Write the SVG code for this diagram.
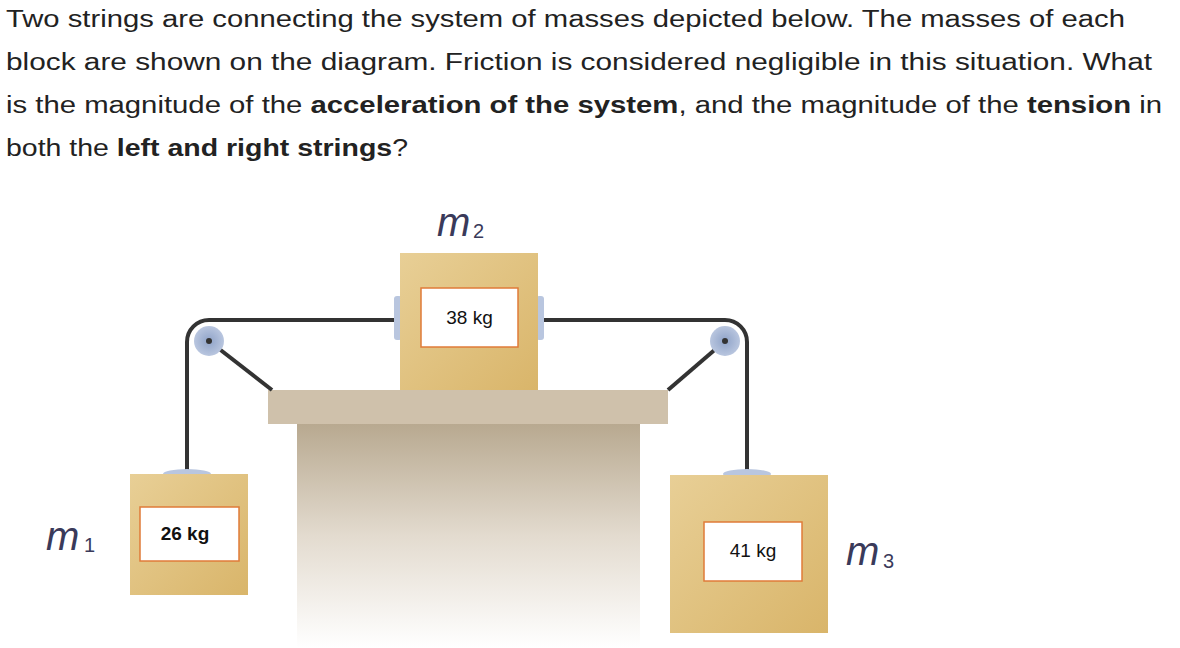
<svg xmlns="http://www.w3.org/2000/svg" width="1180" height="648" viewBox="0 0 1180 648">
<defs>
<linearGradient id="box" x1="0" y1="0" x2="1" y2="1"><stop offset="0" stop-color="#e8cf96"/><stop offset="1" stop-color="#d9b56a"/></linearGradient>
<linearGradient id="leg" x1="0" y1="0" x2="0" y2="1"><stop offset="0" stop-color="#b8a990"/><stop offset="0.5" stop-color="#e3dbcf"/><stop offset="1" stop-color="#ffffff"/></linearGradient>
<radialGradient id="pul"><stop offset="0" stop-color="#8fa3c8"/><stop offset="1" stop-color="#b9c6df"/></radialGradient>
</defs>
<style>
.q{font-family:"Liberation Sans",Arial,sans-serif;font-size:23px;fill:#222}
.b{font-weight:bold}
.lab{font-family:"Liberation Sans",Arial,sans-serif;font-size:19px;fill:#111}
.m{font-family:"Liberation Sans",Arial,sans-serif;font-style:italic;font-size:40px;fill:#3a3a5a}
.s{font-family:"Liberation Sans",Arial,sans-serif;font-size:20px;fill:#3a3a5a}
.str{stroke:#333;stroke-width:4;fill:none}
.lb{fill:#fff;stroke:#e07b39;stroke-width:1.5}
</style>
<text class="q" x="6" y="27" textLength="1119" lengthAdjust="spacingAndGlyphs">Two strings are connecting the system of masses depicted below. The masses of each</text>
<text class="q" x="6" y="70" textLength="1146" lengthAdjust="spacingAndGlyphs">block are shown on the diagram. Friction is considered negligible in this situation. What</text>
<text class="q" x="6" y="113" textLength="1156" lengthAdjust="spacingAndGlyphs">is the magnitude of the <tspan class="b">acceleration of the system</tspan>, and the magnitude of the <tspan class="b">tension</tspan> in</text>
<text class="q" x="6" y="156" textLength="402" lengthAdjust="spacingAndGlyphs">both the <tspan class="b">left and right strings</tspan>?</text>

<g id="table">
<rect x="297" y="424" width="343" height="224" fill="url(#leg)"/>
<rect x="268" y="390" width="400" height="34" fill="#cfc1ab"/>
</g>
<g id="connectors">
<path class="str" d="M187 474 V342 A22 22 0 0 1 209 320 H400"/>
<path class="str" d="M538 320 H725 A22 22 0 0 1 747 342 V474"/>
<line class="str" x1="209" y1="341" x2="272" y2="390"/>
<line class="str" x1="725" y1="341" x2="668" y2="390"/>
</g>
<g id="pulleyL"><circle cx="209" cy="341" r="15" fill="url(#pul)"/><circle cx="209" cy="341" r="3" fill="#333"/></g>
<g id="pulleyR"><circle cx="725" cy="341" r="15" fill="url(#pul)"/><circle cx="725" cy="341" r="3" fill="#333"/></g>

<g id="m2">
<rect x="394" y="296" width="8" height="44" rx="3" fill="#b9c6df"/>
<rect x="536" y="296" width="8" height="44" rx="3" fill="#b9c6df"/>
<rect x="400" y="253" width="138" height="137" fill="url(#box)"/>
<rect class="lb" x="421" y="288" width="97" height="59"/>
<text class="lab" x="469.500" y="324" text-anchor="middle">38 kg</text>
<text class="m" x="437" y="236">m</text><text class="s" x="473" y="238">2</text>
</g>
<g id="m1">
<ellipse cx="187" cy="474" rx="24" ry="5" fill="#b9c6df"/>
<rect x="130" y="474" width="118" height="121" fill="url(#box)"/>
<rect class="lb" x="140" y="507" width="99" height="54"/>
<text class="lab b" x="185" y="540" text-anchor="middle">26 kg</text>
<text class="m" x="46" y="550">m</text><text class="s" x="84" y="552">1</text>
</g>
<g id="m3">
<ellipse cx="747" cy="474" rx="24" ry="5" fill="#b9c6df"/>
<rect x="670" y="475" width="158" height="158" fill="url(#box)"/>
<rect class="lb" x="704" y="522" width="98" height="59"/>
<text class="lab" x="753" y="557" text-anchor="middle">41 kg</text>
<text class="m" x="846" y="565">m</text><text class="s" x="883" y="568">3</text>
</g>
</svg>
